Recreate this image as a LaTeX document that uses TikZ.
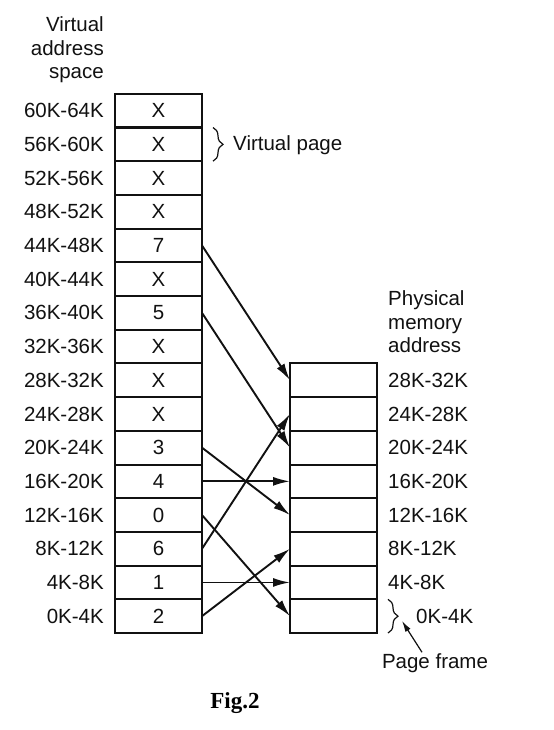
\documentclass[tikz,border=0pt]{standalone}
\usepackage{fontspec}
\setmainfont{Liberation Sans}
\newfontfamily\captionFont{Liberation Serif}
\usetikzlibrary{arrows.meta}
\usetikzlibrary{decorations.pathreplacing}
\definecolor{lineColor}{HTML}{111111}
\definecolor{textColor}{HTML}{111111}
\def\rowHeight{33.7}
\def\tableBottom{633}

\tikzset{
  cell/.style={draw=lineColor, line width=2bp, minimum width=87bp,
    minimum height=33.7bp, inner sep=0pt, outer sep=0pt, text=textColor},
  addr/.style={inner sep=1bp, text=textColor},
  maparrow/.style={draw=lineColor, line width=1.9bp,
    -{Latex[length=17bp,width=9bp]}},
  pointer/.style={draw=lineColor, line width=1.2bp,
    -{Latex[length=11bp,width=6bp]}},
  pagebrace/.style={draw=lineColor, line width=1.2bp, decorate,
    decoration={brace, amplitude=10bp}}
}

\begin{document}
\begin{tikzpicture}[x=1bp,y=-1bp,font=\fontsize{20.5bp}{23.5bp}\selectfont]
\useasboundingbox (0, 0) rectangle (554, 730);

% virtual address space
\begin{scope}
\node[addr, align=right, anchor=east] (vtitle) at (105, 50) {Virtual\\address\\space};
\foreach \entry [count=\i from 0] in {2,1,6,0,4,3,X,X,X,5,X,7,X,X,X,X} {
  \pgfmathsetmacro{\rowY}{\tableBottom-(\i+0.5)*\rowHeight}
  \pgfmathtruncatemacro{\lowK}{4*\i}
  \pgfmathtruncatemacro{\highK}{4*\i+4}
  \node[cell] (v\i) at (158.5, \rowY) {\entry};
  \node[addr, anchor=east] (vl\i) at (105, \rowY) {\lowK K-\highK K};
}
\end{scope}

% physical memory
\begin{scope}
\node[addr, align=left, anchor=west] (ptitle) at (387, 322) {Physical\\memory\\address};
\foreach \i in {0,...,7} {
  \pgfmathsetmacro{\rowY}{\tableBottom-(\i+0.5)*\rowHeight}
  \pgfmathtruncatemacro{\lowK}{4*\i}
  \pgfmathtruncatemacro{\highK}{4*\i+4}
  \node[cell] (p\i) at (333.5, \rowY) {};
  \ifnum\i>0
    \node[addr, anchor=west] (pl\i) at (387, \rowY) {\lowK K-\highK K};
  \fi
}
\node[addr, anchor=west] (pl0) at (415, 616) {0K-4K};
\end{scope}

% mapping arrows
\foreach \v/\p in {11/7, 9/5, 5/3, 4/4, 3/0, 2/6, 1/1, 0/2}
  \draw[maparrow] (v\v.east) -- (p\p.west);

% braces
\draw[pagebrace] ([xshift=11bp]v14.north east) -- ([xshift=11bp]v14.south east);
\node[addr, anchor=west] (vpage) at (232, 145) {Virtual page};
\draw[pagebrace] ([xshift=11bp]p0.north east) -- ([xshift=11bp]p0.south east);
\coordinate (ftip) at (402, 621);
\node[addr] (pframe) at (435, 663) {Page frame};
\draw[pointer] ([xshift=-13bp]pframe.north) -- (ftip);

% caption
\node[font=\captionFont\bfseries\fontsize{23bp}{26bp}\selectfont] (caption) at (235, 703) {Fig.2};
\end{tikzpicture}
\end{document}
